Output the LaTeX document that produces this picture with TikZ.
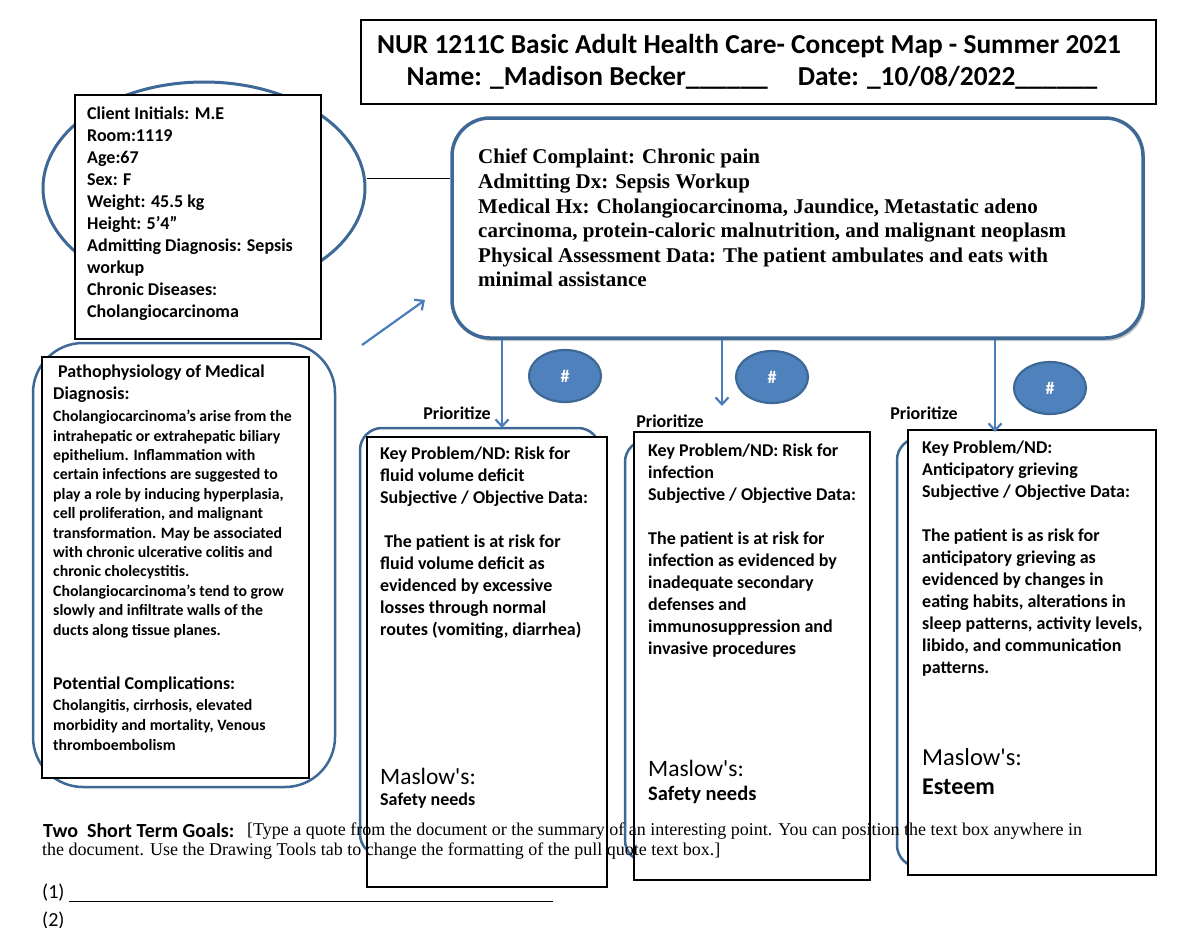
\documentclass[tikz,border=0pt]{standalone}
\usepackage{fontspec}
\setmainfont{Carlito}
\newfontfamily\serifbox{Liberation Serif}
\usetikzlibrary{shapes.geometric,arrows.meta,shadows}
\definecolor{ringblue}{RGB}{62,104,150}
\definecolor{flowblue}{RGB}{74,126,187}
\definecolor{badgeblue}{RGB}{79,129,189}

\begin{document}
\begin{tikzpicture}[x=1pt,y=-1pt,
  frame/.style={draw,line width=2.8pt,fill=white,inner sep=0pt},
  bracket/.style={draw=ringblue,line width=2.5pt,rounded corners=22pt},
  flow/.style={draw=flowblue,line width=2.2pt,-{Straight Barb[length=7pt,width=13pt]}},
  badge/.style={ellipse,draw=ringblue,line width=2.2pt,fill=badgeblue,minimum width=72pt,minimum height=52pt,text=white,font=\bfseries\fontsize{18}{20}\selectfont},
  txt/.style={anchor=north west,inner sep=0pt,align=left},
  body/.style={font=\bfseries\fontsize{18}{22}\selectfont},
  small/.style={font=\bfseries\fontsize{15.8}{19.4}\selectfont},
  maslow/.style={anchor=west,inner sep=0pt,font=\fontsize{23.5}{26}\selectfont\addfontfeatures{Ligatures=TeXOff}}]
\useasboundingbox[fill=white] (0,0) rectangle (1200,927);

% header
\node[frame,line width=1.4pt,minimum width=795pt,minimum height=84pt] (title) at (758.5,62) {};
\node[font=\bfseries\fontsize{27.4}{30}\selectfont] (titleA) at (749,46) {NUR 1211C Basic Adult Health Care- Concept Map - Summer 2021};
\node[font=\bfseries\fontsize{27.4}{30}\selectfont] (titleB) at (752,78) {Name: \_Madison Becker\_\_\_\_\_\_\hspace{30pt}Date: \_10/08/2022\_\_\_\_\_\_};

% client
\node[ellipse,draw=ringblue,line width=3pt,minimum width=322pt,minimum height=212pt,inner sep=0pt] (ring) at (204,188) {};
\node[frame,minimum width=246pt,minimum height=244pt] (client) at (198,217) {};
\node[txt,body] (clientText) at (87,107) {Client Initials: M.E\\Room:1119\\Age:67\\Sex: F\\Weight: 45.5 kg\\Height: 5’4”\\Admitting Diagnosis: Sepsis\\workup\\Chronic Diseases:\\Cholangiocarcinoma};

% chief complaint
\node[draw=ringblue,line width=3.5pt,fill=white,rounded corners=38pt,minimum width=691pt,minimum height=220pt,
  drop shadow={shadow xshift=2pt,shadow yshift=-3pt,fill=black!45}] (main) at (797.5,228) {};
\node[txt,font=\serifbox\bfseries\fontsize{21}{24.6}\selectfont] (mainText) at (478,149) {Chief Complaint: Chronic pain\\Admitting Dx: Sepsis Workup\\Medical Hx: Cholangiocarcinoma, Jaundice, Metastatic adeno\\carcinoma, protein-caloric malnutrition, and malignant neoplasm\\Physical Assessment Data: The patient ambulates and eats with\\minimal assistance};
\coordinate (link) at (367,178);
\draw[line width=1pt] (link) -- (link -| main.west);
\coordinate (diagA) at (362,345);
\coordinate (diagB) at (425,300);
\draw[flow] (diagA) -- (diagB);

% pathophysiology
\draw[bracket,rounded corners=50pt] (33,343) rectangle (335,787);
\node[frame,minimum width=267pt,minimum height=421pt] (patho) at (175.5,567.5) {};
\node[txt,body] (pathoHead) at (53,365) {\hspace{5pt}Pathophysiology of Medical\\Diagnosis:};
\node[txt,small] (pathoText) at (53,410) {Cholangiocarcinoma’s arise from the\\intrahepatic or extrahepatic biliary\\epithelium. Inflammation with\\certain infections are suggested to\\play a role by inducing hyperplasia,\\cell proliferation, and malignant\\transformation. May be associated\\with chronic ulcerative colitis and\\chronic cholecystitis.\\Cholangiocarcinoma’s tend to grow\\slowly and infiltrate walls of the\\ducts along tissue planes.};
\node[txt,body] (complHead) at (53,677) {Potential Complications:};
\node[txt,font=\bfseries\fontsize{15.8}{20.3}\selectfont] (complText) at (53,699) {Cholangitis, cirrhosis, elevated\\morbidity and mortality, Venous\\thromboembolism};

% key problems
\draw[bracket] (360,428) rectangle (600,856);
\draw[bracket] (625,440) rectangle (860,862);
\draw[bracket] (897,438) rectangle (1150,867);
\node[frame,minimum width=240pt,minimum height=450pt] (probA) at (487,662) {};
\node[frame,minimum width=236pt,minimum height=448pt] (probB) at (752,656) {};
\node[frame,minimum width=248pt,minimum height=445pt] (probC) at (1032,652.5) {};

\coordinate (tipA) at (502,428);
\coordinate (tipB) at (722,406);
\coordinate (tipC) at (995,432);
\draw[flow] (main.south -| tipA) -- (tipA);
\draw[flow] (main.south -| tipB) -- (tipB);
\draw[flow] (main.south -| tipC) -- (tipC);
\node[badge] (rankA) at (565,376) {\#};
\node[badge] (rankB) at (772,377) {\#};
\node[badge] (rankC) at (1050,388) {\#};
\node[body] (prioA) at (457,413) {Prioritize};
\node[body] (prioB) at (670,421) {Prioritize};
\node[body] (prioC) at (924,413) {Prioritize};

\node[txt,body] (probAText) at (380,447) {Key Problem/ND: Risk for\\fluid volume deficit\\Subjective / Objective Data:\\[22pt]\ The patient is at risk for\\fluid volume deficit as\\evidenced by excessive\\losses through normal\\routes (vomiting, diarrhea)};
\node[txt,body] (probBText) at (648,444) {Key Problem/ND: Risk for\\infection\\Subjective / Objective Data:\\[22pt]The patient is at risk for\\infection as evidenced by\\inadequate secondary\\defenses and\\immunosuppression and\\invasive procedures};
\node[txt,body] (probCText) at (922,441) {Key Problem/ND:\\Anticipatory grieving\\Subjective / Objective Data:\\[22pt]The patient is as risk for\\anticipatory grieving as\\evidenced by changes in\\eating habits, alterations in\\sleep patterns, activity levels,\\libido, and communication\\patterns.};

\node[maslow] (maslowA) at (380,776) {Maslow's:};
\node[anchor=west,inner sep=0pt,body] (needA) at (380,801) {Safety needs};
\node[maslow] (maslowB) at (648,768) {Maslow's:};
\node[anchor=west,inner sep=0pt,font=\bfseries\fontsize{20.5}{22}\selectfont] (needB) at (648,795) {Safety needs};
\node[maslow,font=\fontsize{24.5}{26}\selectfont\addfontfeatures{Ligatures=TeXOff}] (maslowC) at (922,757) {Maslow's:};
\node[anchor=west,inner sep=0pt,font=\bfseries\fontsize{24}{26}\selectfont] (needC) at (922,787) {Esteem};

% goals
\node[anchor=west,inner sep=0pt,font=\bfseries\fontsize{20}{22}\selectfont] (goals) at (43,831) {Two\ \ Short Term Goals:};
\node[anchor=west,inner sep=0pt,font=\serifbox\fontsize{18}{20}\selectfont] (goalsNote) at (247,831) {[Type a quote from the document or the summary of an interesting point. You can position the text box anywhere in};
\node[anchor=west,inner sep=0pt,font=\serifbox\fontsize{18}{20}\selectfont] (goalsNoteB) at (42,851) {the document. Use the Drawing Tools tab to change the formatting of the pull quote text box.]};
\node[anchor=west,inner sep=0pt,font=\fontsize{20}{22}\selectfont] (goalOne) at (42,893) {(1)~\rule[-3pt]{484pt}{1.2pt}};
\node[anchor=west,inner sep=0pt,font=\fontsize{20}{22}\selectfont] (goalTwo) at (42,921) {(2)};
\end{tikzpicture}
\end{document}
